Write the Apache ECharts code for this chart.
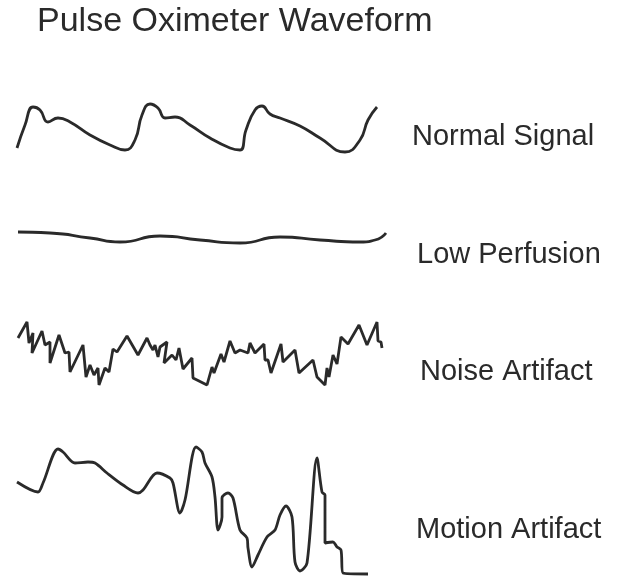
<!DOCTYPE html>
<html>
<head>
<meta charset="UTF-8">
<style>
  html, body { margin: 0; padding: 0; background: #fff; }
  #chart { width: 617px; height: 584px; }
</style>
<script src="https://cdn.jsdelivr.net/npm/echarts@6/dist/echarts.min.js"></script>
</head>
<body>
<div id="chart"></div>
<script>
// traces, in page units (x right, y down)
var normalSignal = [[17,148],[25,125],[33,107],[40,110],[48,122],[58,118],[70,122],[90,135],[110,145],[125,150],[135,140],[142,115],[150,104],[158,108],[165,118],[175,117],[190,125],[210,138],[230,148],[240,150],[246,130],[255,110],[262,106],[270,114],[280,118],[300,126],[320,138],[345,152],[360,140],[368,120],[377,107]];
var lowPerfusion = [[18,232],[50,233],[90,238],[120,242],[160,236],[200,240],[240,243],[280,237],[320,240],[360,242],[375,240],[386,233]];
var noiseArtifact = [[18,338],[27,322],[29,343],[33,333],[32,353],[42,331],[45,345],[50,342],[50,363],[59,335],[65,353],[69,352],[70,372],[83,345],[86,377],[90,365],[94,375],[98,368],[99,385],[105,368],[109,372],[113,349],[117,352],[127,336],[138,355],[147,338],[150,345],[153,350],[155,345],[158,357],[160,347],[167,342],[164,363],[172,355],[176,360],[179,348],[183,369],[192,358],[193,378],[207,385],[212,367],[214,373],[221,354],[224,362],[230,341],[235,353],[240,350],[248,353],[250,343],[255,353],[264,344],[265,360],[268,360],[271,373],[281,344],[283,362],[295,350],[299,373],[313,360],[317,377],[325,385],[327,368],[329,377],[333,355],[337,364],[341,337],[348,344],[359,325],[367,345],[377,322],[378,341],[381,342],[382,348]];
var motionArtifact = [[17,482],[38,492],[43,483],[58,449],[63,452],[75,463],[88,462],[95,463],[107,473],[123,485],[138,493],[143,490],[157,473],[170,478],[173,483],[180,513],[185,500],[196,447],[202,452],[205,463],[212,477],[215,497],[218,530],[222,517],[222,498],[228,493],[233,498],[240,530],[247,538],[248,548],[252,567],[258,555],[267,537],[275,530],[280,515],[286,506],[292,517],[295,562],[300,571],[307,563],[317,458],[322,492],[325,495],[325,543],[333,542],[337,547],[341,550],[343,573],[368,574]];
var traceLabels = ['Normal Signal', 'Low Perfusion', 'Noise Artifact', 'Motion Artifact'];
var labelPos = [[412,137],[417,255],[420,372],[416,530]];

var chart = echarts.init(document.getElementById('chart'));

function trace(data, smooth) {
  return {
    type: 'line', data: data, smooth: smooth, symbol: 'none',
    lineStyle: { color: '#2a2a2a', width: 2.8 }
  };
}

chart.setOption({
  animation: false,
  grid: { left: 0, right: 0, top: 0, bottom: 0 },
  xAxis: { type: 'value', min: 0, max: 617, show: false },
  yAxis: { type: 'value', min: 0, max: 584, inverse: true, show: false },
  title: {
    text: 'Pulse Oximeter Waveform', left: 32, top: 0,
    textStyle: { fontFamily: 'Liberation Sans', fontSize: 34, fontWeight: 'normal', color: '#2a2a2a' }
  },
  graphic: traceLabels.map(function (t, i) {
    return {
      type: 'text', x: labelPos[i][0], y: labelPos[i][1],
      style: { text: t, font: '29px "Liberation Sans"', fill: '#2a2a2a', verticalAlign: 'middle' }
    };
  }),
  series: [
    trace(normalSignal, 0.5),
    trace(lowPerfusion, 0.6),
    trace(noiseArtifact, false),
    trace(motionArtifact, 0.3)
  ]
});
</script>
</body>
</html>
